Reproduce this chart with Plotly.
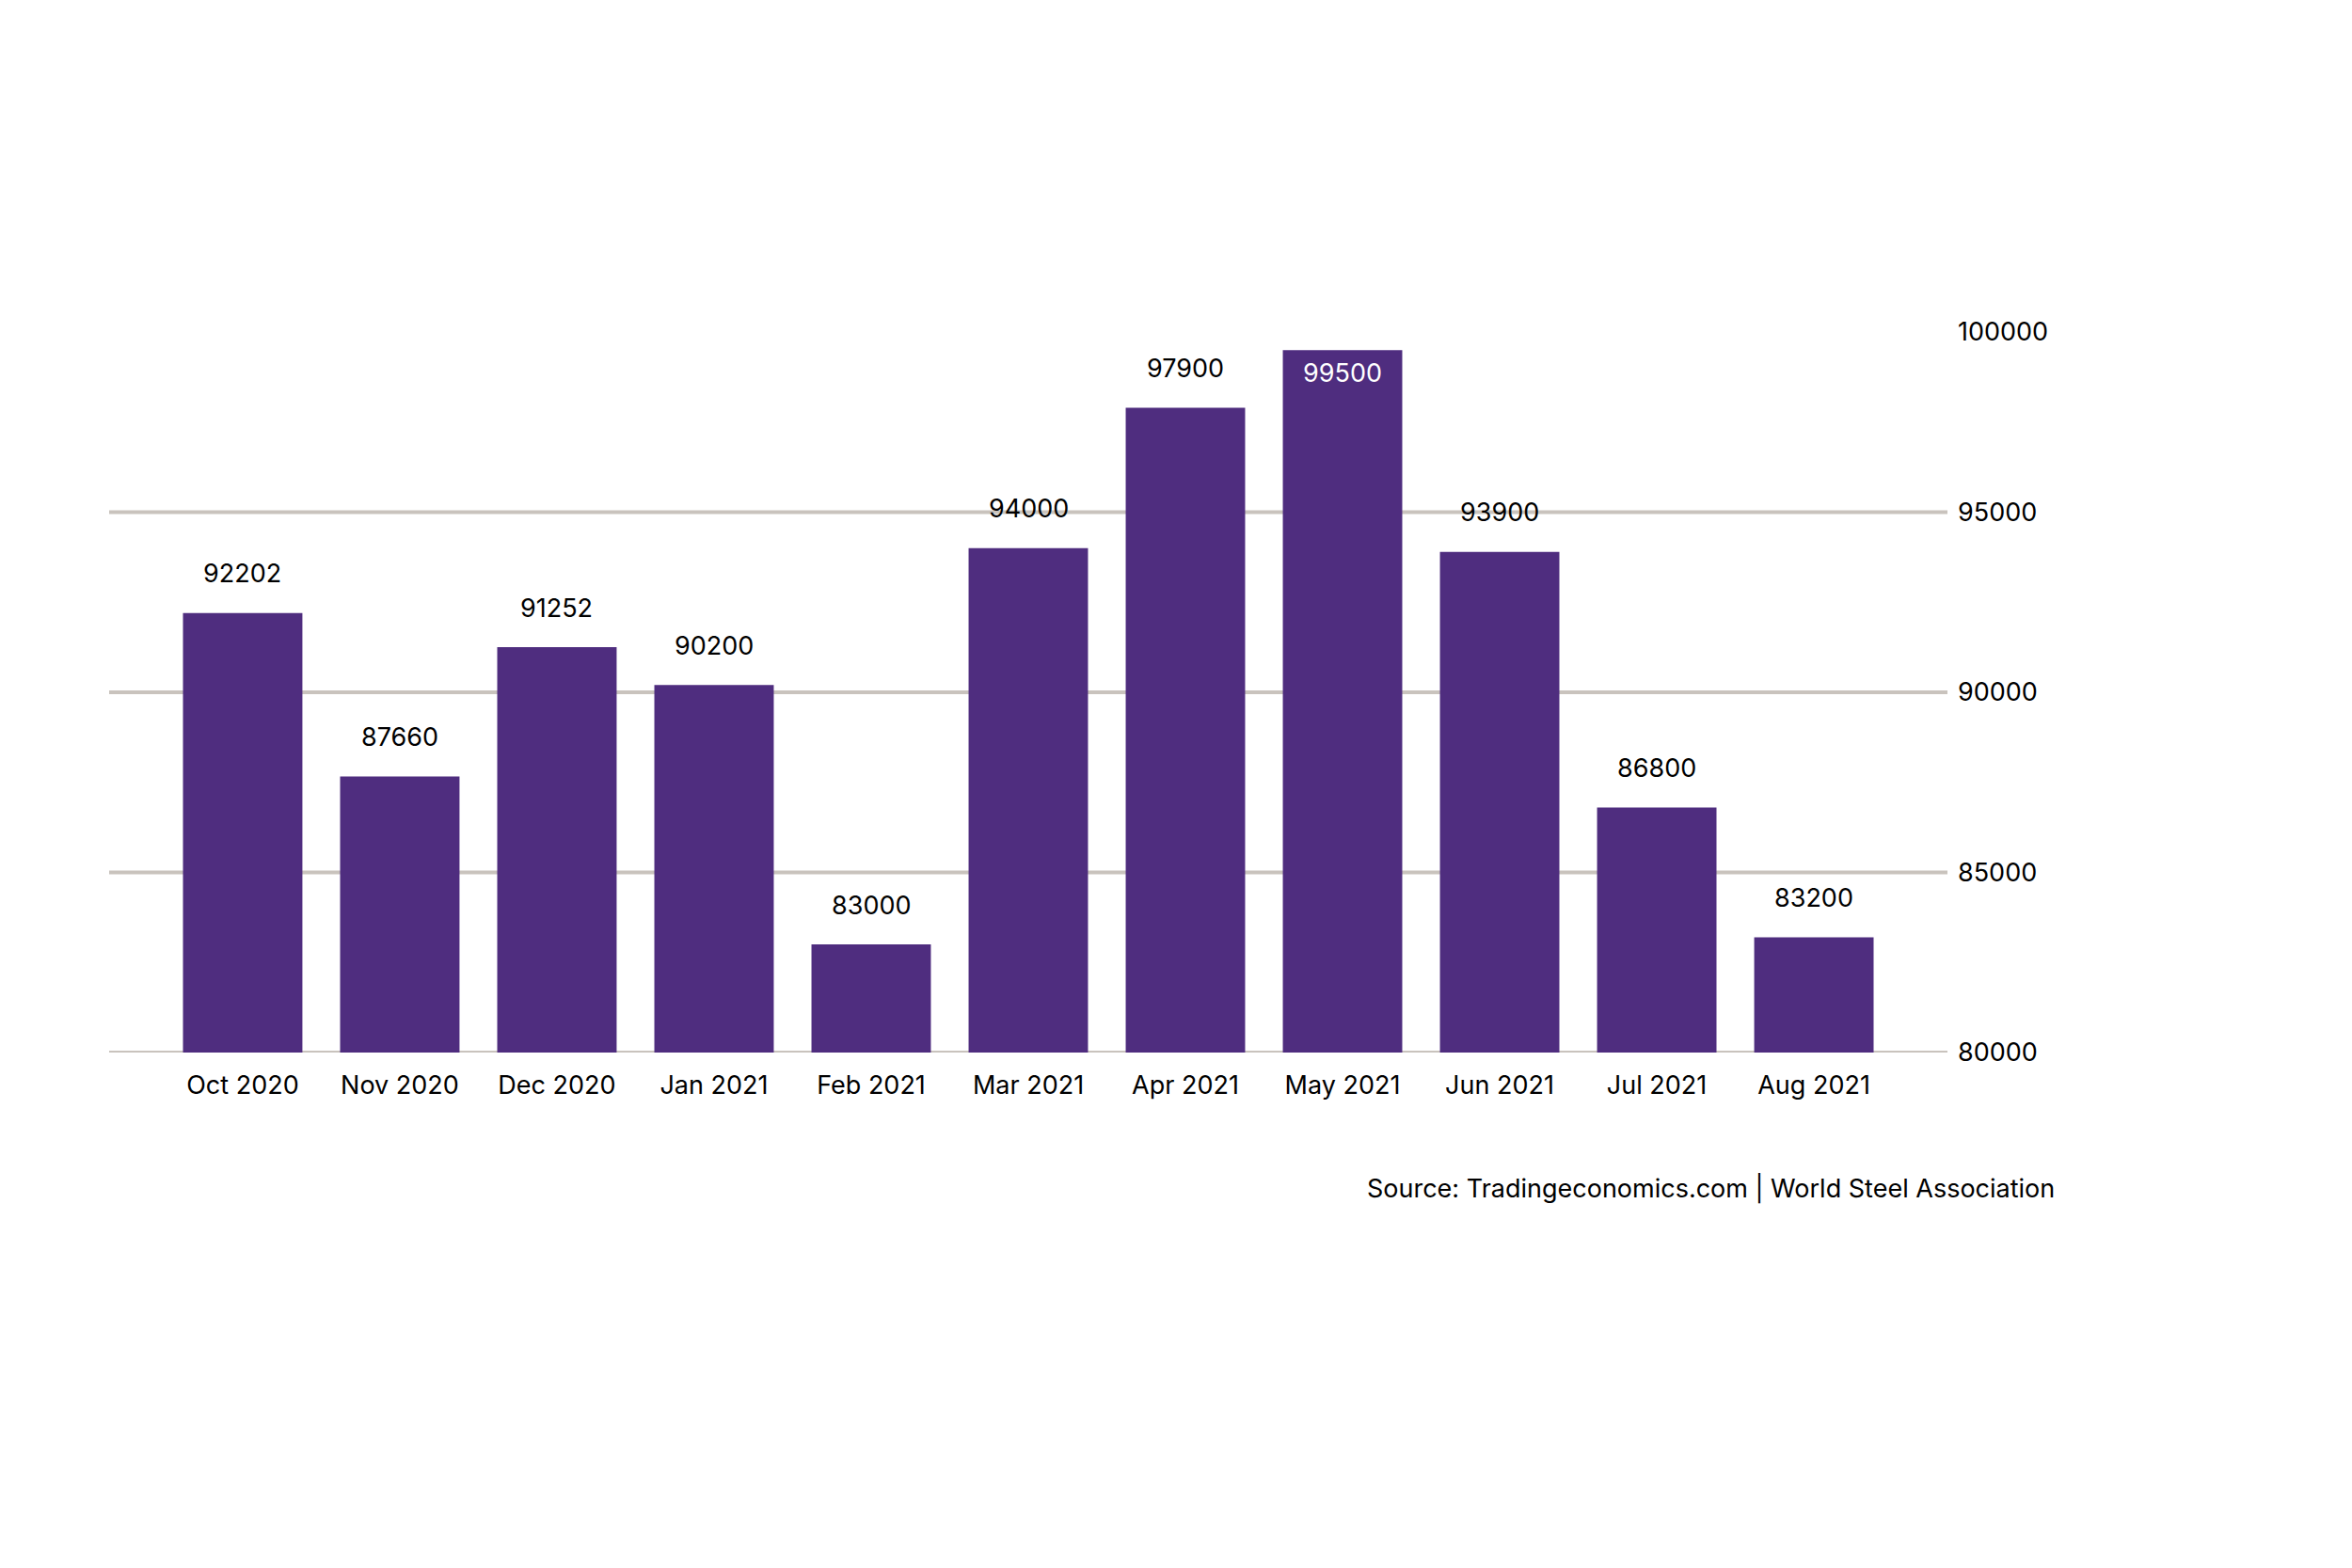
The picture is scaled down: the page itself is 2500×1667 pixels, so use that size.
import plotly.graph_objects as go

# monthly crude steel output, values as printed on the bars
months = ['Oct 2020', 'Nov 2020', 'Dec 2020', 'Jan 2021', 'Feb 2021', 'Mar 2021',
          'Apr 2021', 'May 2021', 'Jun 2021', 'Jul 2021', 'Aug 2021']
production = [92202, 87660, 91252, 90200, 83000, 94000, 97900, 99500, 93900, 86800, 83200]
y_ticks = [80000, 85000, 90000, 95000, 100000]
grid_vals = [80000, 85000, 90000, 95000]
source_text = 'Source: Tradingeconomics.com | World Steel Association'

PURPLE = '#4F2D7F'
GRID = '#C9C3BD'
FONT = 'Inter'
FS = 27

fig = go.Figure()
fig.add_trace(go.Bar(x=months, y=production, marker=dict(color=PURPLE, line=dict(width=0)),
                     hoverinfo='x+y'))

# value labels above bars, the top one sits inside the bar in white
for m, v in zip(months, production):
    inside = v == max(production)
    fig.add_annotation(x=m, y=v, xref='x', yref='y', text=str(v), showarrow=False,
                       yshift=-24 if inside else 42,
                       font=dict(family=FONT, size=FS, color='white' if inside else 'black'))

for g in grid_vals:
    fig.add_shape(type='line', xref='paper', yref='y', x0=0, x1=1, y0=g, y1=g,
                  line=dict(color=GRID, width=4), layer='below')

fig.add_annotation(text=source_text, xref='paper', yref='paper', x=1.0595, y=-0.188,
                   xanchor='right', yanchor='middle', showarrow=False,
                   font=dict(family=FONT, size=FS, color='black'))

fig.update_layout(
    width=2500, height=1667,
    margin=dict(l=108, r=438, t=345, b=556),
    paper_bgcolor='white', plot_bgcolor='white',
    bargap=0.24, showlegend=False,
    font=dict(family=FONT, size=FS, color='black'),
)
fig.update_xaxes(range=[-0.85, 10.85], showgrid=False, showline=False, ticks='',
                 ticklabelstandoff=16, tickfont=dict(size=FS))
fig.update_yaxes(range=[80000, 100000], side='right', tickvals=y_ticks,
                 ticktext=[str(t) for t in y_ticks], showgrid=False, zeroline=False,
                 showline=False, ticklabelstandoff=10, tickfont=dict(size=FS))

fig.write_html('out.html')
